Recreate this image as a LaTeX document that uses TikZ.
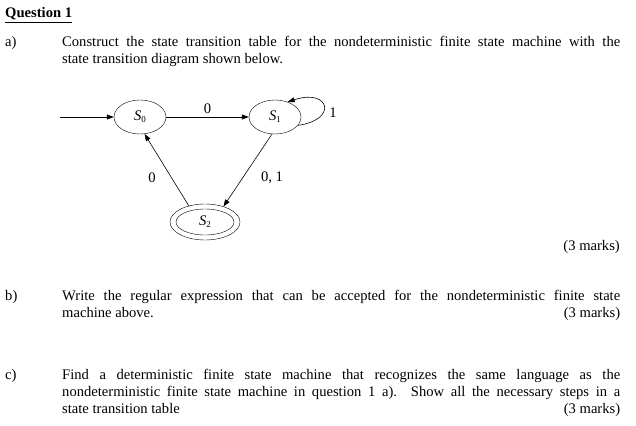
\documentclass[tikz,border=0pt]{standalone}
\usepackage{fontspec}
\setmainfont{Liberation Serif}
\usetikzlibrary{arrows.meta,shapes.geometric}
\begin{document}
\begin{tikzpicture}[x=1pt,y=-1pt,
  txt/.style={anchor=base west,inner sep=0pt,font=\fontsize{14.6}{17}\selectfont},
  st/.style={draw,ellipse,minimum width=52pt,minimum height=34pt,inner sep=0pt,font=\fontsize{14.6}{17}\selectfont},
  arr/.style={-{Triangle[length=7pt,width=5pt]},line width=0.6pt},
  lab/.style={inner sep=0pt,font=\fontsize{14.6}{17}\selectfont}]
\useasboundingbox (0,0) rectangle (636,425);
\node[txt,font=\fontsize{14.6}{17}\selectfont\bfseries] (q) at (5,18) {\underline{Question 1}};
\node[txt] (la) at (5,47) {a)};
\node[txt] (a1) at (62,47) {\makebox[558pt][s]{Construct the state transition table for the nondeterministic finite state machine with the}};
\node[txt] (a2) at (62,64) {state transition diagram shown below.};
\node[txt,anchor=base east] (m1) at (620,250) {(3 marks)};
\node[txt] (lb) at (5,300) {b)};
\node[txt] (b1) at (62,300) {\makebox[558pt][s]{Write the regular expression that can be accepted for the nondeterministic finite state}};
\node[txt] (b2) at (62,317) {\makebox[558pt][l]{machine above.\hfill(3 marks)}};
\node[txt] (lc) at (5,379) {c)};
\node[txt] (c1) at (62,379) {\makebox[558pt][s]{Find a deterministic finite state machine that recognizes the same language as the}};
\node[txt] (c2) at (62,396) {\makebox[558pt][s]{nondeterministic finite state machine in question 1 a). Show all the necessary steps in a}};
\node[txt] (c3) at (62,413) {\makebox[558pt][l]{state transition table\hfill(3 marks)}};
% diagram
\node[st] (s0) at (140,117) {\textit{S}\raisebox{-2pt}{\small 0}};
\node[st] (s1) at (275,117) {\textit{S}\raisebox{-2pt}{\small 1}};
\node[st,minimum width=70pt,minimum height=36pt] (s2) at (205,222) {};
\node[st,minimum width=58pt,minimum height=26pt] (s2i) at (205,222) {\textit{S}\raisebox{-2pt}{\small 2}};
\coordinate (init) at (60,117);
\draw[arr] (init) -- (s0);
\draw[arr] (s0) -- node[lab,above=3pt]{0} (s1);
\draw[arr] (s1.-100) -- (s2.40);
\draw[arr] (s2.135) -- (s0.-75);
\draw[arr] (s1.-20) .. controls (338,120) and (330,88) .. (s1.50);
\node[lab] (l1) at (333,113) {1};
\node[lab] (l0) at (152,178) {0};
\node[lab] (l01) at (272,178) {0, 1};
\end{tikzpicture}
\end{document}
